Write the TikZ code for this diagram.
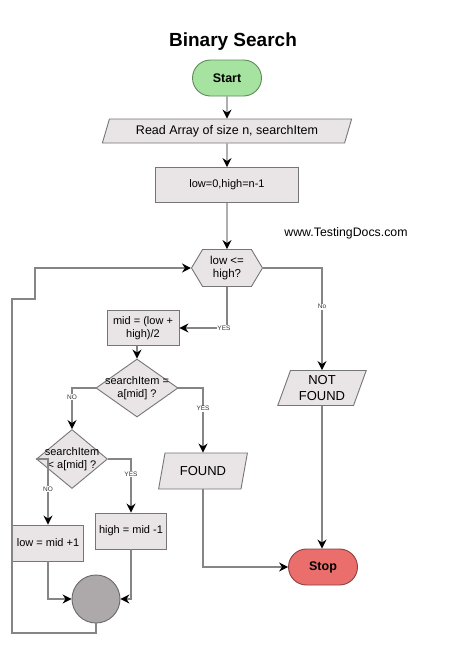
\documentclass[tikz,border=0pt]{standalone}
\usepackage{fontspec}
\setmainfont{Liberation Sans}
\usetikzlibrary{shapes.geometric,shapes.symbols,shapes.misc,arrows.meta}
\definecolor{boxfill}{HTML}{E9E4E6}
\definecolor{boxline}{HTML}{767676}
\definecolor{linegray}{HTML}{858585}
\definecolor{startfill}{HTML}{A6E3A0}
\definecolor{startline}{HTML}{5E8A5A}
\definecolor{stopfill}{HTML}{EA6E6C}
\definecolor{stopline}{HTML}{8A4040}
\definecolor{circfill}{HTML}{ADA8AA}
\definecolor{circline}{HTML}{6A6A6A}
\tikzset{
  base/.style={draw=boxline, fill=boxfill, line width=0.9pt, align=center, inner sep=1pt, font=\fontsize{11}{13}\selectfont},
  procbox/.style={base, rectangle, minimum width=71, minimum height=35},
  termbox/.style={base, rounded rectangle, minimum width=71, minimum height=36, font=\bfseries\fontsize{12.5}{14}\selectfont},
  iobox/.style={base, trapezium, trapezium left angle=70, trapezium right angle=110, trapezium stretches=true, font=\fontsize{13}{15.5}\selectfont},
  decbox/.style={base, diamond, minimum width=82, minimum height=58},
  hexbox/.style={base, signal, signal to=west and east, signal pointer angle=118, minimum width=71, minimum height=37, font=\fontsize{11.5}{13.5}\selectfont},
  arr/.style={draw=linegray, line width=1.2pt, -{Stealth[black,length=9pt,width=9pt,inset=3pt]}},
  lbl/.style={fill=white, inner sep=0.6pt, font=\fontsize{6.5}{7}\selectfont, text=black!80}
}
\begin{document}
\begin{tikzpicture}[x=1pt,y=-1pt]
\useasboundingbox (0,0) rectangle (474,670);
\fill[white] (0,0) rectangle (474,670);

\node[font=\bfseries\fontsize{19}{22}\selectfont] (title) at (233,42) {Binary Search};
\node[font=\fontsize{12.3}{14}\selectfont] (web) at (346,233) {www.TestingDocs.com};

\node[termbox, fill=startfill, draw=startline] (start) at (227,78) {Start};
\node[iobox, minimum width=250, minimum height=24, trapezium left angle=68, trapezium right angle=112, font=\fontsize{12.5}{14}\selectfont] (read) at (227,131) {Read Array of size n, searchItem};
\node[procbox, minimum width=143] (init) at (227,185) {low=0,high=n-1};
\node[hexbox] (hex) at (227,268) {low <=\\high?};
\node[procbox, minimum width=72] (mid) at (143,328) {mid = (low +\\high)/2};
\node[decbox] (d1) at (137,388) {};
\node[font=\fontsize{11}{13}\selectfont, align=center, inner sep=0] (d1t) at (d1) {searchItem =\\a[mid] ?};
\node[decbox, minimum width=71, minimum height=59] (d2) at (72,459) {};
\node[font=\fontsize{11}{13}\selectfont, align=center, inner sep=0] (d2t) at (d2) {searchItem\\< a[mid] ?};
\node[iobox, minimum width=89, minimum height=36] (found) at (203,471) {FOUND};
\node[iobox, minimum width=89, minimum height=35] (nf) at (322,388) {NOT\\FOUND};
\node[termbox, fill=stopfill, draw=stopline] (stop) at (323,567) {Stop};
\node[procbox, minimum width=71, minimum height=36] (lowb) at (48,543) {low = mid +1};
\node[procbox, minimum width=71, minimum height=36] (highb) at (131,531) {high = mid -1};
\node[circle, draw=circline, fill=circfill, line width=0.9pt, minimum size=48] (circ) at (96,599) {};

\coordinate (lb) at (12,633);
\coordinate (lt) at (12,299);
\coordinate (lj) at (35,299);

\draw[arr] (start) -- (read);
\draw[arr] (read) -- (init);
\draw[arr] (init) -- (hex);
\draw[arr] (hex.south) |- (mid.east) node[pos=0.5, lbl, xshift=-3pt] (yes1) {YES};
\draw[arr] (hex.east) -| (nf.north) node[pos=0.69, lbl] (no1) {No};
\draw[arr] (nf.south) -- (nf.south |- stop.north);
\draw[arr] (mid.south -| d1.north) -- (d1.north);
\draw[arr] (d1.west) -| (d2.north) node[pos=0.61, lbl] (no2) {NO};
\draw[arr] (d1.east) -| (found.north) node[pos=0.66, lbl] (yes2) {YES};
\draw[arr] (d2.west) -| (lowb.north) node[pos=0.73, lbl] (no3) {NO};
\draw[arr] (d2.east) -| (highb.north) node[pos=0.64, lbl] (yes3) {YES};
\draw[arr] (found.south) |- (stop.west);
\draw[arr] (lowb.south) |- (circ.west);
\draw[arr] (highb.south) |- (circ.east);
\draw[arr] (circ.south) |- (lb) -- (lt) -- (lj) |- (hex.west);
\end{tikzpicture}
\end{document}
